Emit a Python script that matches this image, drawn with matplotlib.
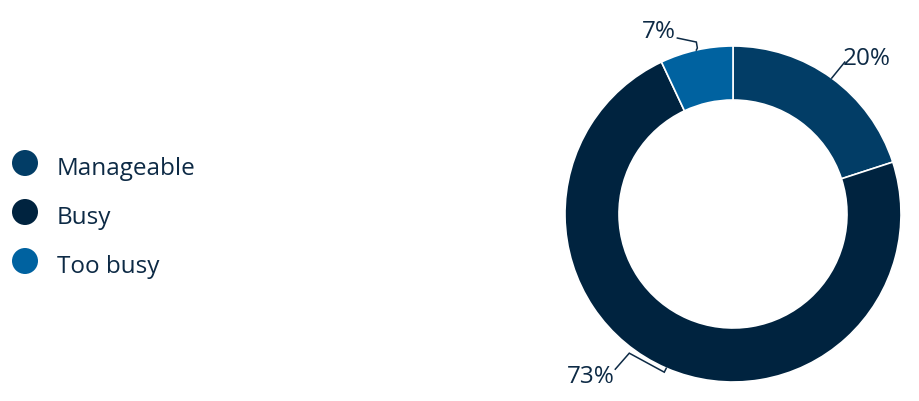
import numpy as np
import matplotlib.pyplot as plt
from matplotlib.patches import Circle

# data
categories = ["Manageable", "Busy", "Too busy"]
shares = [20, 73, 7]
colors = ["#023d66", "#00233f", "#0062a0"]
text_color = "#0d2a45"

W, H = 920, 401
cx, cy = 733, 214      # donut centre in pixels (y down)
r_out, r_in = 168, 114

plt.rcParams['font.family'] = ['Open Sans', 'DejaVu Sans']

fig = plt.figure(figsize=(W / 100, H / 100), dpi=100)
ax = fig.add_axes([0, 0, 1, 1])

ax.pie(shares, colors=colors, startangle=90, counterclock=False,
       radius=r_out, center=(cx, H - cy),
       wedgeprops=dict(width=r_out - r_in, edgecolor='white', linewidth=1.2))

# connector bends (pixel offsets from the slice edge, y down) and label side
connectors = [
    [(0, 0), (13, -16)],
    [(0, 0), (-2, 4), (-37, -15), (-51, 1)],
    [(0, 0), (1, -2), (0, -8), (-19, -12)],
]
label_off = [(-2, 3), (-1, 14), (-1, 0)]   # text anchor from connector end (baseline)
label_ha = ['left', 'right', 'right']

start = 90.0
for i, v in enumerate(shares):
    sweep = 360.0 * v / sum(shares)
    mid = np.radians(start - sweep / 2)
    start -= sweep
    ex = cx + r_out * np.cos(mid)
    ey = cy - r_out * np.sin(mid)
    pts = [(ex + dx, ey + dy) for dx, dy in connectors[i]]
    ax.plot([p[0] for p in pts], [H - p[1] for p in pts],
            color=text_color, lw=1.1, solid_joinstyle='miter')
    tx = pts[-1][0] + label_off[i][0]
    ty = pts[-1][1] + label_off[i][1]
    ax.text(tx, H - ty, f"{v}%", ha=label_ha[i], va='baseline',
            fontsize=17.5, color=text_color)

# legend
for i, name in enumerate(categories):
    ly = 163 + 49 * i
    ax.add_patch(Circle((25, H - ly), 13, color=colors[i], lw=0))
    ax.text(57, H - (ly + 12), name, ha='left', va='baseline', fontsize=17.5,
            color=text_color)

ax.set_xlim(0, W)
ax.set_ylim(0, H)
ax.set_aspect('auto')
ax.axis('off')

fig.savefig('out.png', dpi=100, facecolor='white')
